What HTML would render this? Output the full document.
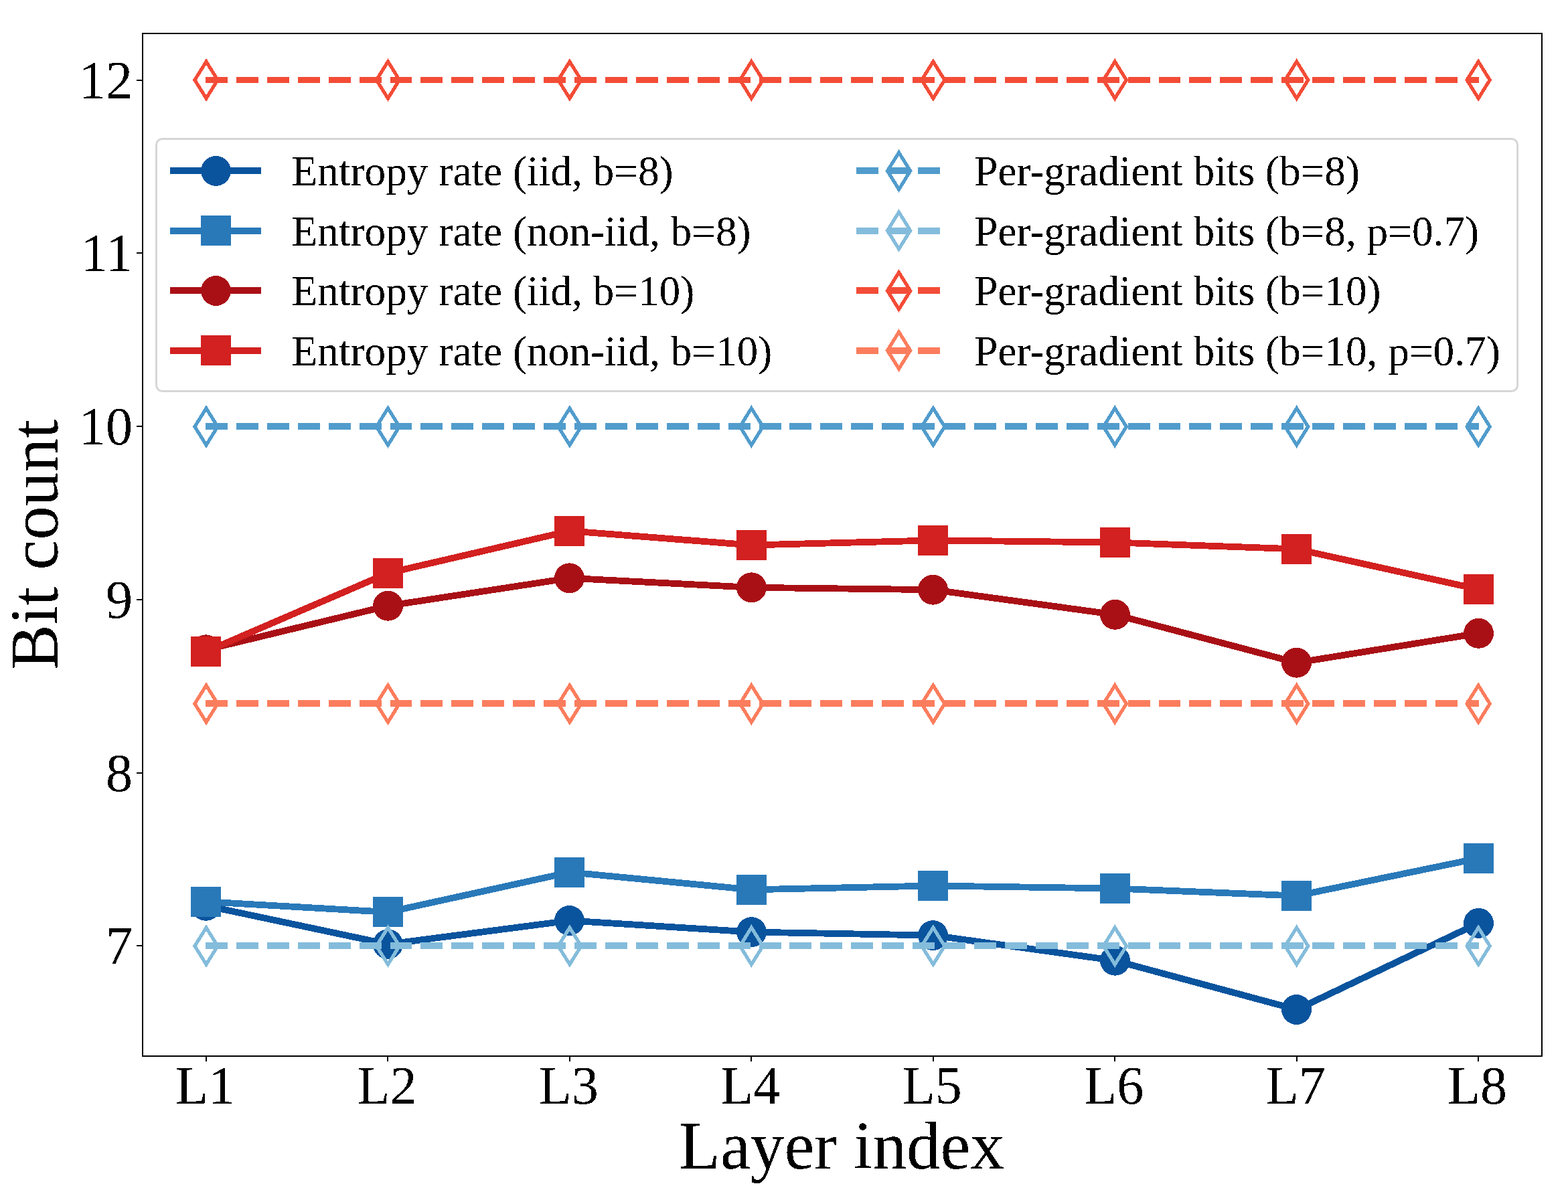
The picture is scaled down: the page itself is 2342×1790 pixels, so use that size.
<!DOCTYPE html>
<html lang="en"><head><meta charset="utf-8"><title>Bit count per layer index</title>
<style>html,body{margin:0;padding:0;background:#fff}body{width:2342px;height:1790px;overflow:hidden}svg{display:block}text{font-family:"Liberation Serif",serif;fill:#000}.tk{font-size:80.2px}.lg{font-size:63.3px}.lb{font-size:101.2px}</style></head><body>
<svg width="2342" height="1790" viewBox="0 0 2342 1790" role="img" aria-label="Bit count versus layer index">
<defs><filter id="bw" filterUnits="userSpaceOnUse" x="0" y="0" width="2342" height="1790" color-interpolation-filters="sRGB"><feComponentTransfer><feFuncA type="discrete" tableValues="0 1"/></feComponentTransfer></filter></defs>
<rect x="0" y="0" width="2342" height="1790" fill="#ffffff"/>
<g shape-rendering="crispEdges">
<polyline points="308,1353.3 579.45,1410.8 850.9,1375.5 1122.35,1392.6 1393.8,1397.6 1665.25,1435.2 1936.7,1508.5 2208.15,1379.4" fill="none" stroke="#0a549e" stroke-width="9.8" stroke-linejoin="round" stroke-linecap="square"/>
<circle cx="307.5" cy="1353.3" r="22.45" fill="#0a549e"/>
<circle cx="579.5" cy="1410.8" r="22.45" fill="#0a549e"/>
<circle cx="850.5" cy="1375.5" r="22.45" fill="#0a549e"/>
<circle cx="1122.5" cy="1392.6" r="22.45" fill="#0a549e"/>
<circle cx="1393.5" cy="1397.6" r="22.45" fill="#0a549e"/>
<circle cx="1665.5" cy="1435.2" r="22.45" fill="#0a549e"/>
<circle cx="1936.5" cy="1508.5" r="22.45" fill="#0a549e"/>
<circle cx="2208.5" cy="1379.4" r="22.45" fill="#0a549e"/>
<polyline points="308,1347.3 579.45,1362.9 850.9,1303.3 1122.35,1329.3 1393.8,1323.5 1665.25,1327.5 1936.7,1338.5 2208.15,1282.4" fill="none" stroke="#2979b9" stroke-width="9.8" stroke-linejoin="round" stroke-linecap="square"/>
<rect x="285" y="1324.8" width="45" height="45" fill="#2979b9"/>
<rect x="557" y="1340.4" width="45" height="45" fill="#2979b9"/>
<rect x="828" y="1280.8" width="45" height="45" fill="#2979b9"/>
<rect x="1100" y="1306.8" width="45" height="45" fill="#2979b9"/>
<rect x="1371" y="1301" width="45" height="45" fill="#2979b9"/>
<rect x="1643" y="1305" width="45" height="45" fill="#2979b9"/>
<rect x="1914" y="1316" width="45" height="45" fill="#2979b9"/>
<rect x="2186" y="1259.9" width="45" height="45" fill="#2979b9"/>
<polyline points="308,970.8 579.45,905.2 850.9,863.8 1122.35,877.8 1393.8,881.2 1665.25,918.3 1936.7,990.2 2208.15,946.3" fill="none" stroke="#a91016" stroke-width="9.8" stroke-linejoin="round" stroke-linecap="square"/>
<circle cx="307.5" cy="970.8" r="22.45" fill="#a91016"/>
<circle cx="579.5" cy="905.2" r="22.45" fill="#a91016"/>
<circle cx="850.5" cy="863.8" r="22.45" fill="#a91016"/>
<circle cx="1122.5" cy="877.8" r="22.45" fill="#a91016"/>
<circle cx="1393.5" cy="881.2" r="22.45" fill="#a91016"/>
<circle cx="1665.5" cy="918.3" r="22.45" fill="#a91016"/>
<circle cx="1936.5" cy="990.2" r="22.45" fill="#a91016"/>
<circle cx="2208.5" cy="946.3" r="22.45" fill="#a91016"/>
<polyline points="308,973.5 579.45,856.3 850.9,793.3 1122.35,814.5 1393.8,807.4 1665.25,810.5 1936.7,820.4 2208.15,880.5" fill="none" stroke="#d32020" stroke-width="9.8" stroke-linejoin="round" stroke-linecap="square"/>
<rect x="285" y="951" width="45" height="45" fill="#d32020"/>
<rect x="557" y="833.8" width="45" height="45" fill="#d32020"/>
<rect x="828" y="770.8" width="45" height="45" fill="#d32020"/>
<rect x="1100" y="792" width="45" height="45" fill="#d32020"/>
<rect x="1371" y="784.9" width="45" height="45" fill="#d32020"/>
<rect x="1643" y="788" width="45" height="45" fill="#d32020"/>
<rect x="1914" y="797.9" width="45" height="45" fill="#d32020"/>
<rect x="2186" y="858" width="45" height="45" fill="#d32020"/>
<line x1="307" y1="636.95" x2="2209" y2="636.95" stroke="#519ccc" stroke-width="9.8" stroke-dasharray="32.95 12.97"/>
<polygon points="308,610 325.1,637.5 308,665 290.9,637.5" fill="none" stroke="#519ccc" stroke-width="5.2" stroke-linejoin="miter" stroke-miterlimit="10"/>
<polygon points="579.45,610 596.55,637.5 579.45,665 562.35,637.5" fill="none" stroke="#519ccc" stroke-width="5.2" stroke-linejoin="miter" stroke-miterlimit="10"/>
<polygon points="850.9,610 868,637.5 850.9,665 833.8,637.5" fill="none" stroke="#519ccc" stroke-width="5.2" stroke-linejoin="miter" stroke-miterlimit="10"/>
<polygon points="1122.35,610 1139.45,637.5 1122.35,665 1105.25,637.5" fill="none" stroke="#519ccc" stroke-width="5.2" stroke-linejoin="miter" stroke-miterlimit="10"/>
<polygon points="1393.8,610 1410.9,637.5 1393.8,665 1376.7,637.5" fill="none" stroke="#519ccc" stroke-width="5.2" stroke-linejoin="miter" stroke-miterlimit="10"/>
<polygon points="1665.25,610 1682.35,637.5 1665.25,665 1648.15,637.5" fill="none" stroke="#519ccc" stroke-width="5.2" stroke-linejoin="miter" stroke-miterlimit="10"/>
<polygon points="1936.7,610 1953.8,637.5 1936.7,665 1919.6,637.5" fill="none" stroke="#519ccc" stroke-width="5.2" stroke-linejoin="miter" stroke-miterlimit="10"/>
<polygon points="2208.15,610 2225.25,637.5 2208.15,665 2191.05,637.5" fill="none" stroke="#519ccc" stroke-width="5.2" stroke-linejoin="miter" stroke-miterlimit="10"/>
<line x1="307" y1="1413.2" x2="2209" y2="1413.2" stroke="#84bcdb" stroke-width="9.8" stroke-dasharray="32.95 12.97"/>
<polygon points="308,1386 325.1,1413.5 308,1441 290.9,1413.5" fill="none" stroke="#84bcdb" stroke-width="5.2" stroke-linejoin="miter" stroke-miterlimit="10"/>
<polygon points="579.45,1386 596.55,1413.5 579.45,1441 562.35,1413.5" fill="none" stroke="#84bcdb" stroke-width="5.2" stroke-linejoin="miter" stroke-miterlimit="10"/>
<polygon points="850.9,1386 868,1413.5 850.9,1441 833.8,1413.5" fill="none" stroke="#84bcdb" stroke-width="5.2" stroke-linejoin="miter" stroke-miterlimit="10"/>
<polygon points="1122.35,1386 1139.45,1413.5 1122.35,1441 1105.25,1413.5" fill="none" stroke="#84bcdb" stroke-width="5.2" stroke-linejoin="miter" stroke-miterlimit="10"/>
<polygon points="1393.8,1386 1410.9,1413.5 1393.8,1441 1376.7,1413.5" fill="none" stroke="#84bcdb" stroke-width="5.2" stroke-linejoin="miter" stroke-miterlimit="10"/>
<polygon points="1665.25,1386 1682.35,1413.5 1665.25,1441 1648.15,1413.5" fill="none" stroke="#84bcdb" stroke-width="5.2" stroke-linejoin="miter" stroke-miterlimit="10"/>
<polygon points="1936.7,1386 1953.8,1413.5 1936.7,1441 1919.6,1413.5" fill="none" stroke="#84bcdb" stroke-width="5.2" stroke-linejoin="miter" stroke-miterlimit="10"/>
<polygon points="2208.15,1386 2225.25,1413.5 2208.15,1441 2191.05,1413.5" fill="none" stroke="#84bcdb" stroke-width="5.2" stroke-linejoin="miter" stroke-miterlimit="10"/>
<line x1="307" y1="119.45" x2="2209" y2="119.45" stroke="#f34c37" stroke-width="9.8" stroke-dasharray="32.95 12.97"/>
<polygon points="308,92 325.1,119.5 308,147 290.9,119.5" fill="none" stroke="#f34c37" stroke-width="5.2" stroke-linejoin="miter" stroke-miterlimit="10"/>
<polygon points="579.45,92 596.55,119.5 579.45,147 562.35,119.5" fill="none" stroke="#f34c37" stroke-width="5.2" stroke-linejoin="miter" stroke-miterlimit="10"/>
<polygon points="850.9,92 868,119.5 850.9,147 833.8,119.5" fill="none" stroke="#f34c37" stroke-width="5.2" stroke-linejoin="miter" stroke-miterlimit="10"/>
<polygon points="1122.35,92 1139.45,119.5 1122.35,147 1105.25,119.5" fill="none" stroke="#f34c37" stroke-width="5.2" stroke-linejoin="miter" stroke-miterlimit="10"/>
<polygon points="1393.8,92 1410.9,119.5 1393.8,147 1376.7,119.5" fill="none" stroke="#f34c37" stroke-width="5.2" stroke-linejoin="miter" stroke-miterlimit="10"/>
<polygon points="1665.25,92 1682.35,119.5 1665.25,147 1648.15,119.5" fill="none" stroke="#f34c37" stroke-width="5.2" stroke-linejoin="miter" stroke-miterlimit="10"/>
<polygon points="1936.7,92 1953.8,119.5 1936.7,147 1919.6,119.5" fill="none" stroke="#f34c37" stroke-width="5.2" stroke-linejoin="miter" stroke-miterlimit="10"/>
<polygon points="2208.15,92 2225.25,119.5 2208.15,147 2191.05,119.5" fill="none" stroke="#f34c37" stroke-width="5.2" stroke-linejoin="miter" stroke-miterlimit="10"/>
<line x1="307" y1="1050.95" x2="2209" y2="1050.95" stroke="#fb7d5d" stroke-width="9.8" stroke-dasharray="32.95 12.97"/>
<polygon points="308,1024 325.1,1051.5 308,1079 290.9,1051.5" fill="none" stroke="#fb7d5d" stroke-width="5.2" stroke-linejoin="miter" stroke-miterlimit="10"/>
<polygon points="579.45,1024 596.55,1051.5 579.45,1079 562.35,1051.5" fill="none" stroke="#fb7d5d" stroke-width="5.2" stroke-linejoin="miter" stroke-miterlimit="10"/>
<polygon points="850.9,1024 868,1051.5 850.9,1079 833.8,1051.5" fill="none" stroke="#fb7d5d" stroke-width="5.2" stroke-linejoin="miter" stroke-miterlimit="10"/>
<polygon points="1122.35,1024 1139.45,1051.5 1122.35,1079 1105.25,1051.5" fill="none" stroke="#fb7d5d" stroke-width="5.2" stroke-linejoin="miter" stroke-miterlimit="10"/>
<polygon points="1393.8,1024 1410.9,1051.5 1393.8,1079 1376.7,1051.5" fill="none" stroke="#fb7d5d" stroke-width="5.2" stroke-linejoin="miter" stroke-miterlimit="10"/>
<polygon points="1665.25,1024 1682.35,1051.5 1665.25,1079 1648.15,1051.5" fill="none" stroke="#fb7d5d" stroke-width="5.2" stroke-linejoin="miter" stroke-miterlimit="10"/>
<polygon points="1936.7,1024 1953.8,1051.5 1936.7,1079 1919.6,1051.5" fill="none" stroke="#fb7d5d" stroke-width="5.2" stroke-linejoin="miter" stroke-miterlimit="10"/>
<polygon points="2208.15,1024 2225.25,1051.5 2208.15,1079 2191.05,1051.5" fill="none" stroke="#fb7d5d" stroke-width="5.2" stroke-linejoin="miter" stroke-miterlimit="10"/>
</g>
<g stroke="#000" stroke-width="2" shape-rendering="crispEdges">
<line x1="308" y1="1578" x2="308" y2="1586"/>
<line x1="579" y1="1578" x2="579" y2="1586"/>
<line x1="851" y1="1578" x2="851" y2="1586"/>
<line x1="1122" y1="1578" x2="1122" y2="1586"/>
<line x1="1394" y1="1578" x2="1394" y2="1586"/>
<line x1="1665" y1="1578" x2="1665" y2="1586"/>
<line x1="1937" y1="1578" x2="1937" y2="1586"/>
<line x1="2208" y1="1578" x2="2208" y2="1586"/>
<line x1="204" y1="1413" x2="213" y2="1413"/>
<line x1="204" y1="1155" x2="213" y2="1155"/>
<line x1="204" y1="896" x2="213" y2="896"/>
<line x1="204" y1="637" x2="213" y2="637"/>
<line x1="204" y1="378" x2="213" y2="378"/>
<line x1="204" y1="120" x2="213" y2="120"/>
</g>
<rect x="213" y="50" width="2090" height="1528" fill="none" stroke="#000" stroke-width="2" shape-rendering="crispEdges"/>
<g filter="url(#bw)">
<g class="tk">
<text x="306.5" y="1648.6" text-anchor="middle">L1</text>
<text x="577.95" y="1648.6" text-anchor="middle">L2</text>
<text x="849.4" y="1648.6" text-anchor="middle">L3</text>
<text x="1120.85" y="1648.6" text-anchor="middle">L4</text>
<text x="1392.3" y="1648.6" text-anchor="middle">L5</text>
<text x="1663.75" y="1648.6" text-anchor="middle">L6</text>
<text x="1935.2" y="1648.6" text-anchor="middle">L7</text>
<text x="2206.65" y="1648.6" text-anchor="middle">L8</text>
<text x="198" y="1440.05" text-anchor="end">7</text>
<text x="198" y="1182.05" text-anchor="end">8</text>
<text x="198" y="923.05" text-anchor="end">9</text>
<text x="198" y="664.05" text-anchor="end">10</text>
<text x="198" y="405.05" text-anchor="end">11</text>
<text x="198" y="147.05" text-anchor="end">12</text>
</g>
<text class="lb" x="1257.1" y="1745.5" text-anchor="middle">Layer index</text>
<text class="lb" transform="translate(85.6 813.6) rotate(-90)" text-anchor="middle">Bit count</text>
</g>
<rect x="233.5" y="207.5" width="2033.1" height="377" rx="9" ry="9" fill="#ffffff" fill-opacity="0.8" stroke="#cccccc" stroke-opacity="0.8" stroke-width="3"/>
<g shape-rendering="crispEdges">
<line x1="258.85" y1="254.9" x2="385.45" y2="254.9" stroke="#0a549e" stroke-width="9.8" stroke-linecap="square"/>
<circle cx="322.5" cy="255.45" r="22.45" fill="#0a549e"/>
<line x1="258.85" y1="345" x2="385.45" y2="345" stroke="#2979b9" stroke-width="9.8" stroke-linecap="square"/>
<rect x="300" y="322" width="45" height="45" fill="#2979b9"/>
<line x1="258.85" y1="434" x2="385.45" y2="434" stroke="#a91016" stroke-width="9.8" stroke-linecap="square"/>
<circle cx="322.5" cy="434.5" r="22.45" fill="#a91016"/>
<line x1="258.85" y1="524" x2="385.45" y2="524" stroke="#d32020" stroke-width="9.8" stroke-linecap="square"/>
<rect x="300" y="501.05" width="45" height="45" fill="#d32020"/>
<line x1="1279" y1="254.9" x2="1406.4" y2="254.9" stroke="#519ccc" stroke-width="9.8" stroke-dasharray="32.95 12.97"/>
<polygon points="1342.6,227.95 1359.7,255.45 1342.6,282.95 1325.5,255.45" fill="none" stroke="#519ccc" stroke-width="5.2" stroke-linejoin="miter" stroke-miterlimit="10"/>
<line x1="1279" y1="345" x2="1406.4" y2="345" stroke="#84bcdb" stroke-width="9.8" stroke-dasharray="32.95 12.97"/>
<polygon points="1342.6,317 1359.7,344.5 1342.6,372 1325.5,344.5" fill="none" stroke="#84bcdb" stroke-width="5.2" stroke-linejoin="miter" stroke-miterlimit="10"/>
<line x1="1279" y1="434" x2="1406.4" y2="434" stroke="#f34c37" stroke-width="9.8" stroke-dasharray="32.95 12.97"/>
<polygon points="1342.6,407 1359.7,434.5 1342.6,462 1325.5,434.5" fill="none" stroke="#f34c37" stroke-width="5.2" stroke-linejoin="miter" stroke-miterlimit="10"/>
<line x1="1279" y1="524" x2="1406.4" y2="524" stroke="#fb7d5d" stroke-width="9.8" stroke-dasharray="32.95 12.97"/>
<polygon points="1342.6,496.05 1359.7,523.55 1342.6,551.05 1325.5,523.55" fill="none" stroke="#fb7d5d" stroke-width="5.2" stroke-linejoin="miter" stroke-miterlimit="10"/>
</g>
<g filter="url(#bw)">
<text class="lg" x="435.6" y="276.9">Entropy rate (iid, b=8)</text>
<text class="lg" x="435.6" y="367.1">Entropy rate (non-iid, b=8)</text>
<text class="lg" x="435.6" y="456">Entropy rate (iid, b=10)</text>
<text class="lg" x="435.6" y="546">Entropy rate (non-iid, b=10)</text>
<text class="lg" x="1455.2" y="276.9">Per-gradient bits (b=8)</text>
<text class="lg" x="1455.2" y="367.1">Per-gradient bits (b=8, p=0.7)</text>
<text class="lg" x="1455.2" y="456">Per-gradient bits (b=10)</text>
<text class="lg" x="1455.2" y="546">Per-gradient bits (b=10, p=0.7)</text>
</g>
</svg></body></html>
